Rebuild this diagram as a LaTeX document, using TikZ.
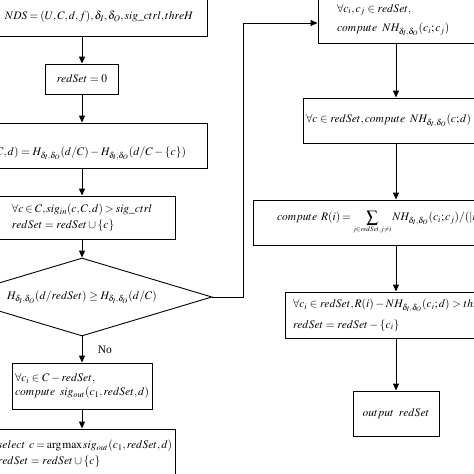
\documentclass[tikz,border=0pt]{standalone}
\usepackage{mathptmx}
\usepackage[no-math]{fontspec}
\setmainfont{Liberation Serif}
\usetikzlibrary{shapes.geometric,arrows.meta}
\relpenalty=10000
\binoppenalty=10000
\thinmuskip=1.5mu
\newcommand{\Hdd}{H_{\delta_I,\delta_O}}
\newcommand{\NHdd}{NH_{\delta_I,\delta_O}}

\begin{document}
\begin{tikzpicture}[x=1pt, y=-1pt, font=\fontsize{11.5}{13.5}\selectfont,
    block/.style = {draw, rectangle, line width=0.9pt, align=left},
    decision/.style = {draw, diamond, line width=0.9pt, aspect=3.33, inner sep=0pt, minimum width=260pt, minimum height=78pt},
    arr/.style = {-{Triangle[length=7pt,width=6pt]}, line width=1pt}]
    \useasboundingbox (0,0) rectangle (474,474);
    \clip (0,0) rectangle (474,474);
    % left column
    \node[block, minimum width=250pt, minimum height=38pt, inner xsep=48pt, text width=154pt] (nds) at (82,17) {$NDS=(U,C,d,f),\delta_I,\delta_O,sig\_ctrl,threH$};
    \node[block, minimum width=73pt, minimum height=30pt, align=center] (zero) at (82,79) {$redSet=0$};
    \node[block, minimum width=250pt, minimum height=45pt, inner xsep=5pt, text width=240pt] (sigin) at (82,145.5) {$\forall c\in C,$\\[3pt]$sig_{in}(c,C,d)=\Hdd(d/C)-\Hdd(d/C-\{c\})$};
    \node[block, minimum width=186pt, minimum height=43pt, inner xsep=23pt, text width=140pt] (keep) at (82,217.5) {$\forall c\in C, sig_{in}(c,C,d)>sig\_ctrl$\\[2pt]$redSet=redSet\cup\{c\}$};
    \node[decision] (test) at (82,297) {$\Hdd(d/redSet)\geq\Hdd(d/C)$};
    \node[block, minimum width=140pt, minimum height=46pt, inner xsep=3pt, text width=134pt] (rest) at (82,386) {$\forall c_i\in C-redSet,$\\$compute\;\; sig_{out}(c_1,redSet,d)$};
    \node[block, minimum width=186pt, minimum height=49pt, inner xsep=9pt, text width=168pt] (pick) at (82,453.5) {$select\;\; c=\arg\max sig_{out}(c_1,redSet,d)$\\[2pt]$redSet=redSet\cup\{c\}$};
    % right column
    \node[block, minimum width=156pt, minimum height=46pt, inner xsep=19pt, text width=118pt] (pair) at (396,20) {$\forall c_i,c_j\in redSet,$\\[6pt]$compute\;\; \NHdd(c_i;c_j)$};
    \node[block, minimum width=186pt, minimum height=45pt, inner xsep=3pt, text width=180pt] (each) at (396,120.5) {$\forall c\in redSet, compute\;\; \NHdd(c;d)$};
    \node[block, minimum width=286pt, minimum height=45pt, inner xsep=24pt, text width=238pt] (rank) at (396,222.5) {$compute\;\; R(i)=\displaystyle\sum_{\scriptscriptstyle j\in redSet,j\neq i}\NHdd(c_i;c_j)/(|redSet|-1)$};
    \node[block, minimum width=222pt, minimum height=46pt, inner xsep=8pt, text width=206pt] (drop) at (396,315) {$\forall c_i\in redSet, R(i)-\NHdd(c_i;d)>threH$\\[7pt]$redSet=redSet-\{c_i\}$};
    \node[block, minimum width=86pt, minimum height=45pt, align=center] (out) at (396,413.5) {$output\;\; redSet$};
    \coordinate (back) at (243,23);
    % connectors
    \draw[arr] (nds) -- (zero);
    \draw[arr] (zero) -- (sigin);
    \draw[arr] (sigin) -- (keep);
    \draw[arr] (keep) -- (test);
    \draw[arr] (test) -- node[right, xshift=12pt] {No} (rest);
    \draw[arr] (rest) -- (pick);
    \draw[arr] (test.east) -| (back) -- (back -| pair.west);
    \draw[arr] (pair) -- (each);
    \draw[arr] (each) -- (rank);
    \draw[arr] (rank) -- (drop);
    \draw[arr] (drop) -- (out);
\end{tikzpicture}
\end{document}
